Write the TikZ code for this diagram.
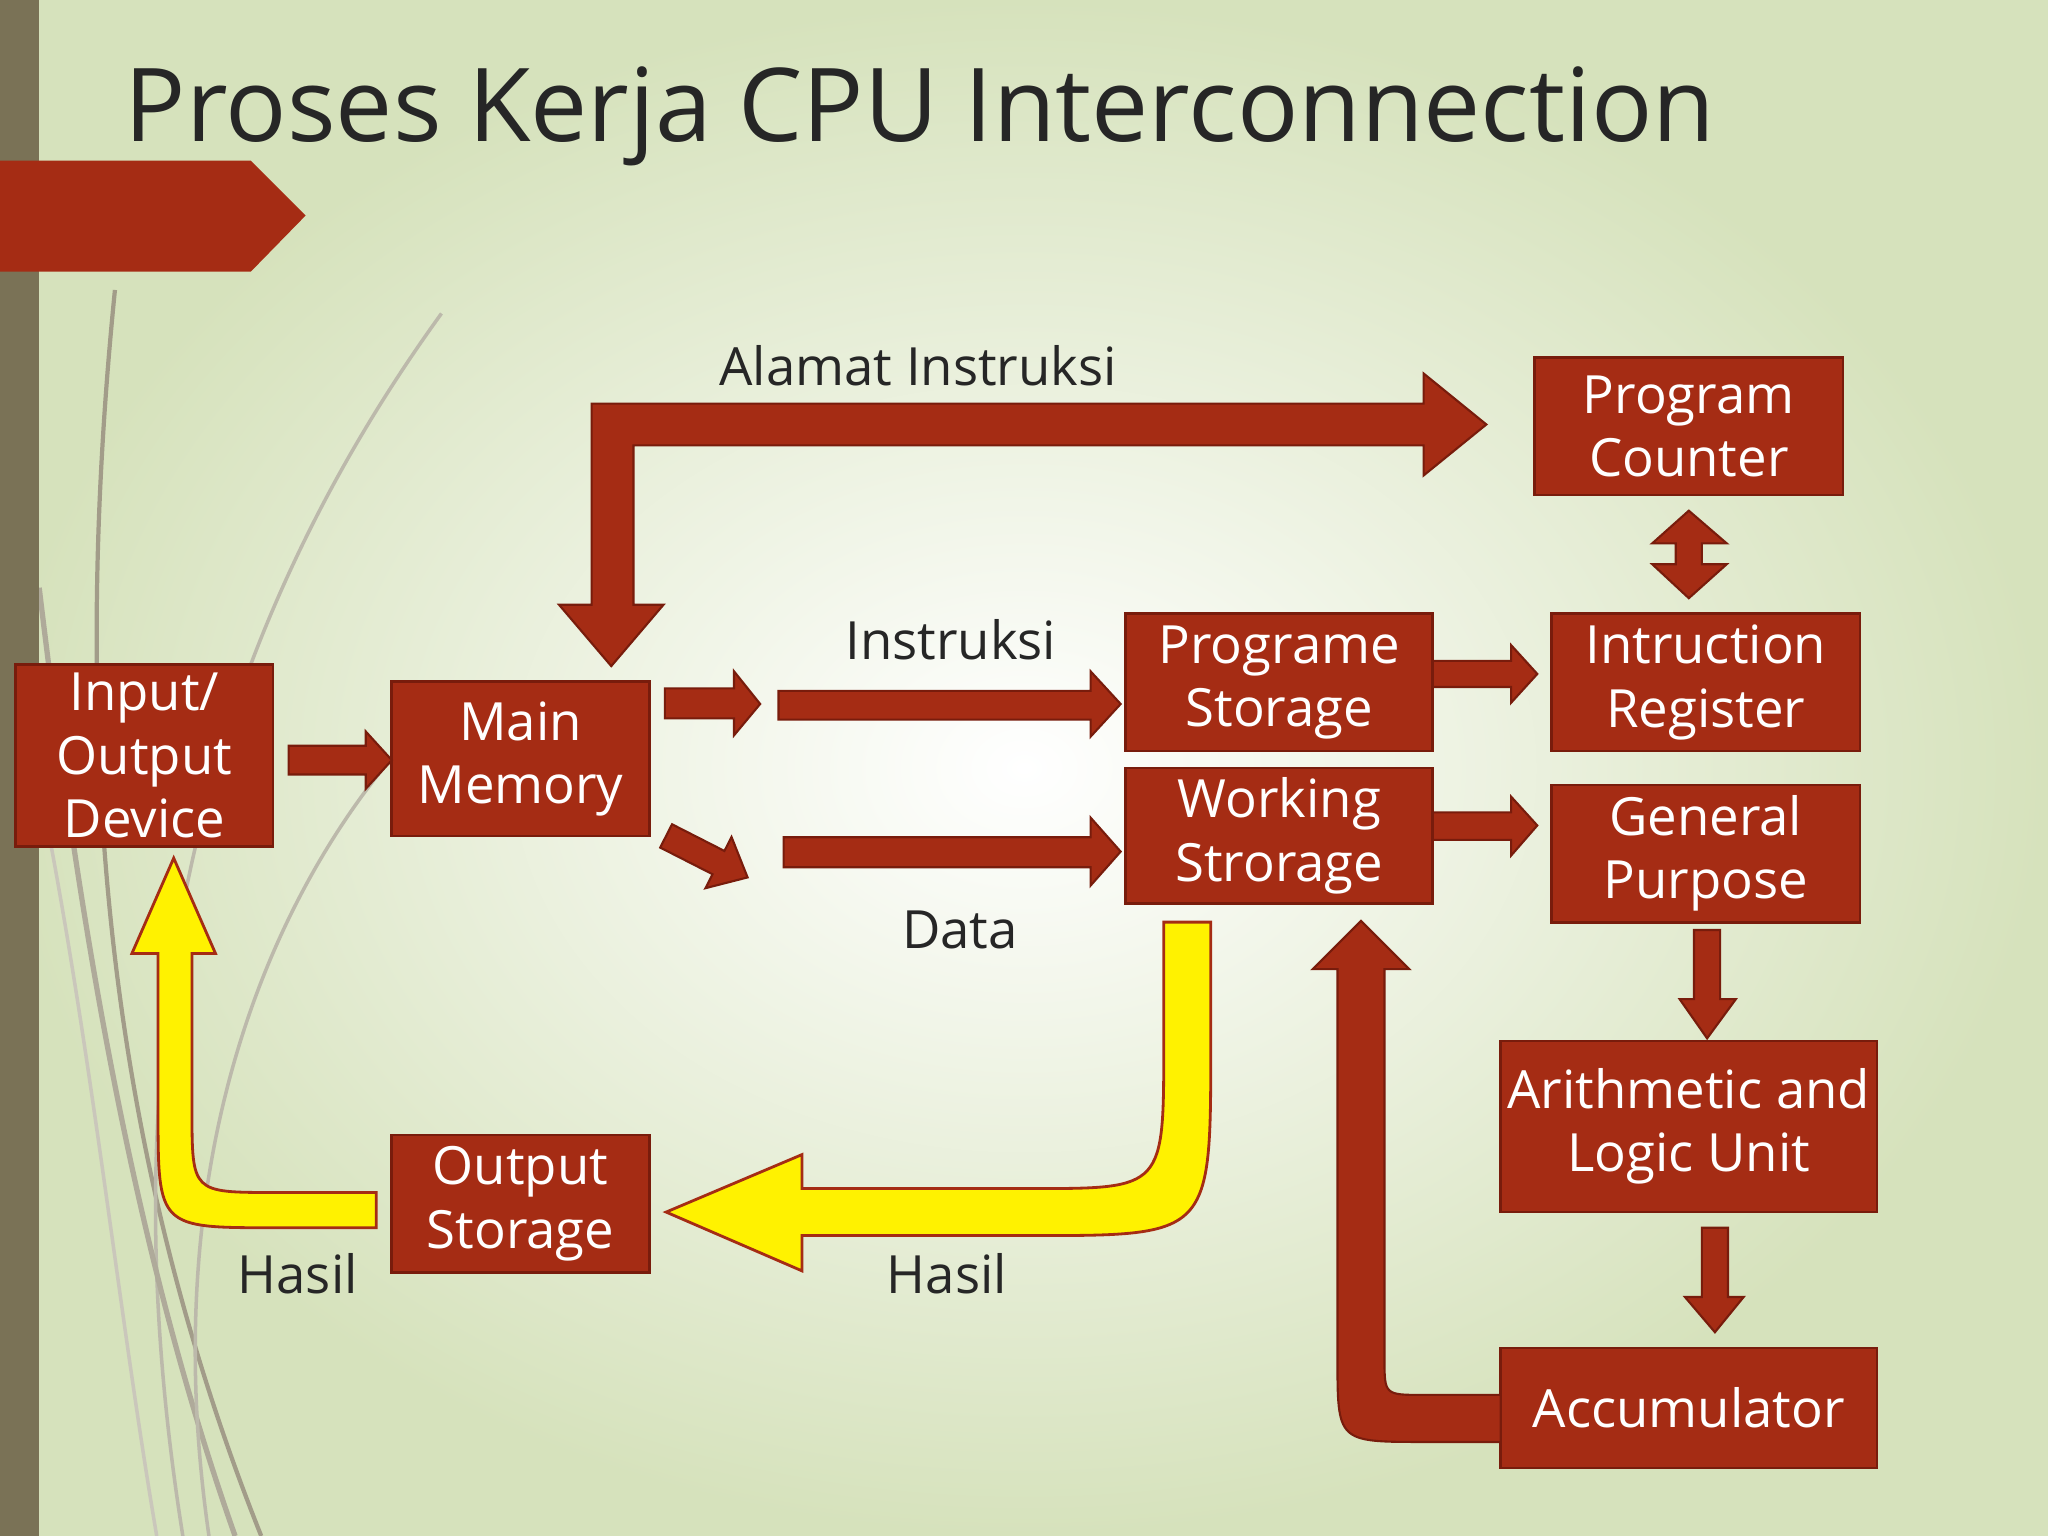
\documentclass[tikz,border=0pt]{standalone}
\usepackage{fontspec}
\setmainfont{Open Sans}
\begin{document}
\definecolor{bred}{RGB}{165,44,20}
\definecolor{dred}{RGB}{120,28,12}
\definecolor{olive}{RGB}{122,114,86}
\definecolor{bgout}{RGB}{214,226,188}
\begin{tikzpicture}[x=0.013061cm,y=-0.013061cm,
 box/.style={fill=bred,draw=dred,line width=0.8pt,text=white,font=\fontsize{15}{18}\selectfont,align=center,inner sep=0pt},
 blk/.style={fill=bred,draw=dred,line width=0.6pt},
 yel/.style={fill=yellow,draw=bred,line width=0.8pt},
 lbl/.style={font=\fontsize{15}{18}\selectfont,text=black!85}]
\useasboundingbox (0,0) rectangle (1568,1176);
\shade[inner color=white,outer color=bgout] (0,0) rectangle (1568,1176);
% decorative curves
\draw[olive!70,line width=1.2pt] (88,222) .. controls (50,600) and (90,900) .. (200,1176);
\draw[olive!50,line width=1pt] (338,240) .. controls (150,500) and (80,800) .. (140,1176);
\draw[olive!60,line width=1.5pt] (30,450) .. controls (60,700) and (100,950) .. (180,1176);
\draw[olive!40,line width=1pt] (30,600) .. controls (70,800) and (90,1000) .. (120,1176);
\draw[olive!50,line width=1pt] (300,580) .. controls (200,700) and (120,900) .. (160,1176);
\fill[olive] (0,0) rectangle (30,1176);
\fill[bred] (0,123) -- (192,123) -- (234,165) -- (192,208) -- (0,208) -- cycle;
\node[anchor=base west,font=\fontsize{29}{34}\selectfont,text=black!85,inner sep=0pt] (title) at (95,108) {Proses Kerja CPU Interconnection};
% boxes
\node[box,minimum width=197*0.013061cm,minimum height=139*0.013061cm] (io) at (110.5,578.5) {Input/\\Output\\Device};
\node[box,minimum width=197*0.013061cm,minimum height=118*0.013061cm] (mm) at (398.5,581) {Main\\Memory};
\node[box,minimum width=235*0.013061cm,minimum height=105*0.013061cm] (ps) at (979.5,522.5) {Programe\\Storage};
\node[box,minimum width=235*0.013061cm,minimum height=104*0.013061cm] (ws) at (979.5,640) {Working\\Strorage};
\node[box,minimum width=236*0.013061cm,minimum height=105*0.013061cm] (pc) at (1293,326.5) {Program\\Counter};
\node[box,minimum width=236*0.013061cm,minimum height=105*0.013061cm] (ir) at (1306,522.5) {Intruction\\Register};
\node[box,minimum width=236*0.013061cm,minimum height=105*0.013061cm] (gp) at (1306,653.5) {General\\Purpose};
\node[box,minimum width=288*0.013061cm,minimum height=131*0.013061cm] (alu) at (1293,862.5) {Arithmetic and\\Logic Unit};
\node[box,minimum width=288*0.013061cm,minimum height=92*0.013061cm] (acc) at (1293,1078) {Accumulator};
\node[box,minimum width=197*0.013061cm,minimum height=105*0.013061cm] (os) at (398.5,921.5) {Output\\Storage};
% block arrows
\draw[blk] (453,309)--(1090,309)--(1090,286)--(1138,325)--(1090,364)--(1090,341)--(485,341)--(485,463)--(508,463)--(468,510)--(428,463)--(453,463)--cycle;
\draw[blk] (221,571)--(280,571)--(280,560)--(300,582)--(280,604)--(280,593)--(221,593)--cycle;
\draw[blk] (509,527)--(562,527)--(562,514)--(582,539)--(562,563)--(562,550)--(509,550)--cycle;
\draw[blk] (596,529)--(835,529)--(835,514)--(858,539)--(835,564)--(835,551)--(596,551)--cycle;
\begin{scope}[shift={(510,640)},rotate=-27]
\draw[blk] (0,-10)--(45,-10)--(45,-22)--(70,0)--(45,22)--(45,10)--(0,10)--cycle;
\end{scope}
\draw[blk] (600,641)--(835,641)--(835,626)--(858,652)--(835,678)--(835,664)--(600,664)--cycle;
\draw[blk] (1097,506)--(1157,506)--(1157,494)--(1177,516)--(1157,538)--(1157,526)--(1097,526)--cycle;
\draw[blk] (1097,622)--(1157,622)--(1157,610)--(1177,632)--(1157,655)--(1157,643)--(1097,643)--cycle;
\draw[blk] (1293,391)--(1322,416)--(1303,416)--(1303,432)--(1322,432)--(1293,458)--(1265,432)--(1283,432)--(1283,416)--(1265,416)--cycle;
\draw[blk] (1297,712)--(1317,712)--(1317,765)--(1329,765)--(1307,795)--(1286,765)--(1297,765)--cycle;
\draw[blk] (1303,940)--(1323,940)--(1323,993)--(1335,993)--(1313,1020)--(1290,993)--(1303,993)--cycle;
\draw[blk] (1149,1068)--(1090,1068) .. controls (1060,1068) .. (1060,1040) -- (1060,742) -- (1079,742) -- (1042,705) -- (1005,742) -- (1024,742) -- (1024,1040) .. controls (1024,1104) .. (1090,1104) -- (1149,1104) -- cycle;
\draw[yel] (891,706)--(927,706)--(927,800) .. controls (927,946) .. (790,946) -- (614,946) -- (614,973) -- (510,928) -- (614,884) -- (614,910) -- (790,910) .. controls (891,910) .. (891,800) -- cycle;
\draw[yel] (288,913)--(210,913) .. controls (147,913) .. (147,850) -- (147,730) -- (165,730) -- (133,657) -- (101,730) -- (121,730) -- (121,850) .. controls (121,940) .. (210,940) -- (288,940) -- cycle;
% labels
\node[lbl] (l1) at (703,280) {Alamat Instruksi};
\node[lbl] (l2) at (728,490) {Instruksi};
\node[lbl] (l3) at (735,712) {Data};
\node[lbl] (l4) at (228,975) {Hasil};
\node[lbl] (l5) at (725,975) {Hasil};
\end{tikzpicture}
\end{document}
